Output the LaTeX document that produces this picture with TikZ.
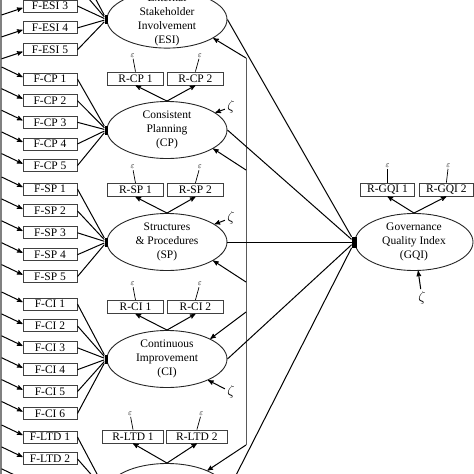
\documentclass[tikz,border=0pt]{standalone}
\usepackage{fontspec}
\setmainfont{Liberation Serif}
\usetikzlibrary{arrows,positioning,shapes.geometric}

\begin{document}
\begin{tikzpicture}[x=1pt,y=-1pt,>=stealth',line width=1pt,node distance=9pt,
  ind/.style={draw=black!75,line width=0.9pt,rectangle,minimum width=54pt,minimum height=12pt,inner sep=0pt,font=\fontsize{11.5}{12}\selectfont},
  rind/.style={ind,minimum width=56pt,minimum height=13pt},
  lat/.style={draw=black!85,line width=0.9pt,ellipse,minimum width=120pt,minimum height=57pt,inner sep=0pt,align=center,font=\fontsize{11.5}{14}\selectfont},
  dot/.style={fill,rectangle,minimum width=3.5pt,minimum height=9pt,inner sep=0pt},
  err/.style={inner sep=1pt,font=\fontsize{8}{8}\selectfont},
  zeta/.style={inner sep=2pt,font=\fontsize{15}{15}\selectfont}]

                \useasboundingbox (0,0) rectangle (474,474);
                \draw[gray,line width=1.5pt] (1,0) -- (1,474);

                % first-order factors
                \node[lat,inner ysep=-6pt] (esi) at (167,19.5) {External\\Stakeholder\\Involvement\\(ESI)};
                \node[lat] (cp) at (167,130) {Consistent\\Planning\\(CP)};
                \node[lat] (sp) at (167,242) {Structures\\\& Procedures\\(SP)};
                \node[lat] (ci) at (167,359) {Continuous\\Improvement\\(CI)};
                \node[lat] (ltd) at (167,492) {};
                \node[lat,minimum width=118pt] (gqi) at (414,242) {Governance\\Quality Index\\(GQI)};

                \foreach \n in {esi,cp,sp,ci,ltd} \node[dot] (d\n) at (\n.west) {};
                \node[dot,minimum width=5pt,minimum height=11pt] (dgqi) at (gqi.west) {};

                % formative indicators
                \node[ind] (fesi3) at (50,6) {F-ESI 3};
                \node[ind] (fesi4) [below=of fesi3] {F-ESI 4};
                \node[ind] (fesi5) [below=of fesi4] {F-ESI 5};
                \coordinate (fesi1) at (77,-36);
                \coordinate (fesi2) at (77,-15);

                \node[ind] (fcp1) at (50,79) {F-CP 1};
                \foreach \i [count=\j] in {2,...,5} \node[ind,below=8.75pt of fcp\j] (fcp\i) {F-CP \i};
                \node[ind] (fsp1) at (50,189) {F-SP 1};
                \foreach \i [count=\j] in {2,...,5} \node[ind,below=of fsp\j] (fsp\i) {F-SP \i};
                \node[ind] (fci1) at (50,304) {F-CI 1};
                \foreach \i [count=\j] in {2,...,6} \node[ind,below=of fci\j] (fci\i) {F-CI \i};
                \node[ind] (fltd1) at (50,437) {F-LTD 1};
                \node[ind] (fltd2) [below=of fltd1] {F-LTD 2};
                \node[ind] (fltd3) [below=of fltd2] {};

                \foreach \i in {3,4,5} \path[->] ([shift={(-21pt,-9pt)}]fesi\i.west) edge ([yshift=-2pt]fesi\i.west);
                \foreach \f in {fcp1,fcp2,fcp3,fcp4,fcp5,fsp1,fsp2,fsp3,fsp4,fsp5,fci1,fci2,fci3,fci4,fci5,fci6,fltd1,fltd2,fltd3}
                  \path[->] ([shift={(-21pt,12pt)}]\f.west) edge ([yshift=2pt]\f.west);

                \foreach \i in {1,...,5} \draw (fesi\i.east) -- (desi);
                \foreach \i in {1,...,5} \draw (fcp\i.east) -- (dcp);
                \foreach \i in {1,...,5} \draw (fsp\i.east) -- (dsp);
                \foreach \i in {1,...,6} \draw (fci\i.east) -- (dci);
                \foreach \i in {1,...,3} \draw (fltd\i.east) -- (dltd);

                % reflective indicators
                \node[rind] (rcp1) at (135.5,78.5) {R-CP 1};
                \node[rind,right=3pt of rcp1] (rcp2) {R-CP 2};
                \node[rind] (rsp1) at (135.5,190) {R-SP 1};
                \node[rind,right=3pt of rsp1] (rsp2) {R-SP 2};
                \node[rind] (rci1) at (135.5,307) {R-CI 1};
                \node[rind,right=3pt of rci1] (rci2) {R-CI 2};
                \node[rind,minimum width=61pt] (rltd1) at (133,436.5) {R-LTD 1};
                \node[rind,minimum width=61pt,right=2pt of rltd1] (rltd2) {R-LTD 2};
                \node[rind,minimum width=54pt] (rgqi1) at (387.5,189.5) {R-GQI 1};
                \node[rind,minimum width=54pt,right=4pt of rgqi1] (rgqi2) {R-GQI 2};

                \foreach \r in {cp,sp,ci,ltd} {
                  \node[err] (e\r1) at ([shift={(-3pt,16pt)}]r\r1.north) {$\varepsilon$};
                  \node[err] (e\r2) at ([shift={(4.5pt,16pt)}]r\r2.north) {$\varepsilon$};
                  \draw[line width=0.7pt] (e\r1) -- (r\r1.north);
                  \draw[line width=0.7pt] (e\r2) -- (r\r2.north);
                  \path[->] (\r.north) edge (r\r1.south) edge (r\r2.south);
                }
                \node[err] (egqi1) at ([yshift=17pt]rgqi1.north) {$\varepsilon$};
                \node[err] (egqi2) at ([shift={(2pt,17pt)}]rgqi2.north) {$\varepsilon$};
                \draw[line width=0.7pt] (egqi1) -- (rgqi1.north);
                \draw[line width=0.7pt] (egqi2) -- (rgqi2.north);
                \path[->] (gqi.north) edge (rgqi1.south) edge (rgqi2.south);

                % disturbances
                \node[zeta] (zcp) at (231,107) {$\zeta$};
                \node[zeta] (zsp) at (231,218) {$\zeta$};
                \node[zeta] (zci) at (231,392) {$\zeta$};
                \node[zeta] (zgqi) at (422,298) {$\zeta$};
                \path[->] (zcp) edge (cp) (zsp) edge (sp) (zci) edge (ci) (zgqi) edge (gqi);

                % second-order paths
                \coordinate (v1) at (246,58);
                \coordinate (v2) at (246,170);
                \coordinate (v3) at (246,282);
                \coordinate (v4) at (246,312);
                \coordinate (v5) at (246,445);
                \draw[gray!70!black,line width=0.8pt] (v1) -- (v5);
                \path[->] (v1) edge (esi.-22) (v2) edge (cp.-22) (v3) edge (sp.-22)
                          (v4) edge (ci.25) (v5) edge (ltd.28);
                \foreach \n in {esi,cp,sp,ci,ltd} \draw (\n.east) -- (dgqi);

            \end{tikzpicture}
\end{document}
